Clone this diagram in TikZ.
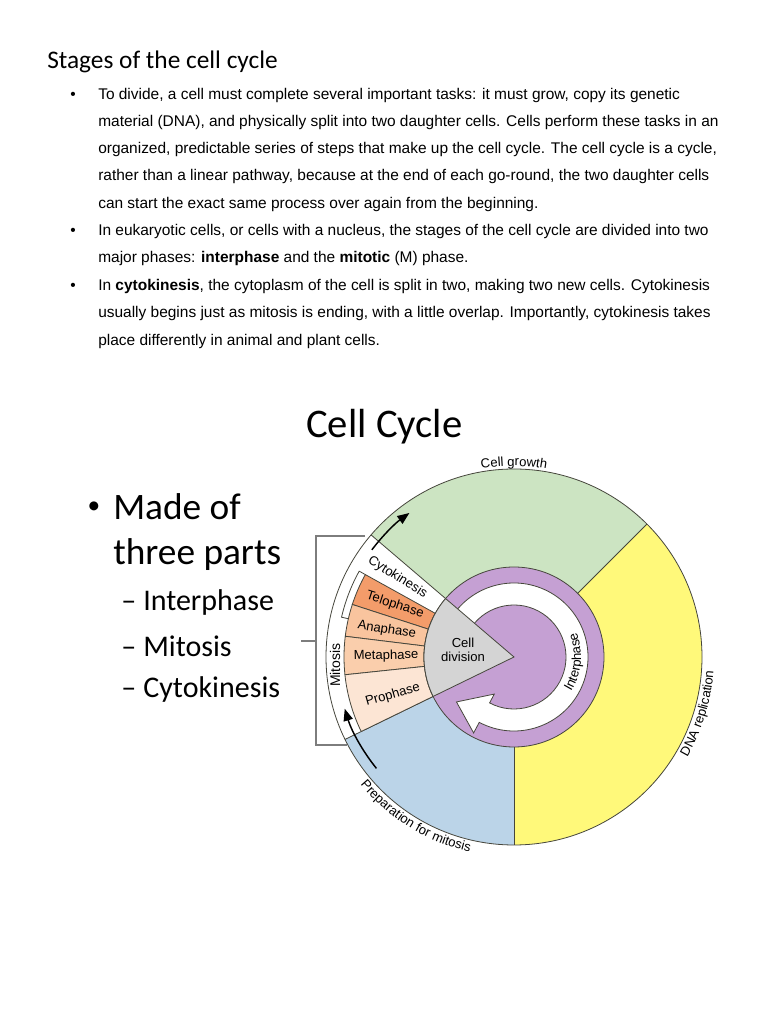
\documentclass[tikz,border=0pt]{standalone}
\usepackage{fontspec}
\setmainfont{Liberation Sans}
\newfontfamily\calib{Carlito}
\usetikzlibrary{decorations.text,arrows.meta}
\definecolor{cgreen}{RGB}{204,228,194}
\definecolor{cyellow}{RGB}{255,249,122}
\definecolor{cblue}{RGB}{187,212,232}
\definecolor{cpurple}{RGB}{197,160,211}
\definecolor{cgray}{RGB}{212,212,212}
\definecolor{ctelo}{RGB}{243,156,106}
\definecolor{cana}{RGB}{249,196,158}
\definecolor{cmeta}{RGB}{250,206,172}
\definecolor{cpro}{RGB}{252,229,212}
\definecolor{edgec}{RGB}{70,70,60}
\definecolor{brk}{RGB}{125,125,125}
\newcommand\bodyf{\fontsize{11.6}{13}\selectfont}
\newcommand\lblf{\fontsize{9.8}{11}\selectfont}
\newcommand\phasesec[3]{\filldraw[fill=#3,draw=edgec,line width=0.6pt] ([shift={(#1:90)}]C) arc[start angle=#1,end angle=#2,radius=90] -- ([shift={(#2:170)}]C) arc[start angle=#2,end angle=#1,radius=170] -- cycle;}
\begin{document}
\begin{tikzpicture}[x=0.75pt,y=0.75pt,
  bodyline/.style={anchor=base west,inner sep=0pt,font=\bodyf},
  slidebig/.style={anchor=base west,inner sep=0pt,font=\calib\fontsize{28}{32}\selectfont},
  slidesub/.style={anchor=base west,inner sep=0pt,font=\calib\fontsize{22.5}{26}\selectfont},
  lbl/.style={inner sep=0pt,font=\lblf,text=black},
  edgeline/.style={draw=edgec,line width=0.6pt},
  cyclearrow/.style={line width=1.1pt,-{Triangle[length=9pt,width=7pt]}},
  bracketline/.style={draw=brk,line width=1pt}]
\useasboundingbox[fill=white] (0,0) rectangle (768,1024);

% ---------- document text ----------
\node[anchor=base west,inner sep=0pt,font=\calib\fontsize{19}{22}\selectfont] (head) at (47,955) {Stages of the cell cycle};
\node[bodyline] (b1) at (70,924) {\textbullet};
\node[bodyline] (l1) at (98,924) {To divide, a cell must complete several important tasks: it must grow, copy its genetic};
\node[bodyline] (l2) at (98,897) {material (DNA), and physically split into two daughter cells. Cells perform these tasks in an};
\node[bodyline] (l3) at (98,870) {organized, predictable series of steps that make up the cell cycle. The cell cycle is a cycle,};
\node[bodyline] (l4) at (98,843) {rather than a linear pathway, because at the end of each go-round, the two daughter cells};
\node[bodyline] (l5) at (98,815) {can start the exact same process over again from the beginning.};
\node[bodyline] (b2) at (70,788) {\textbullet};
\node[bodyline] (l6) at (98,788) {In eukaryotic cells, or cells with a nucleus, the stages of the cell cycle are divided into two};
\node[bodyline] (l7) at (98,761) {major phases: \textbf{interphase} and the \textbf{mitotic} (M) phase.};
\node[bodyline] (b3) at (70,733) {\textbullet};
\node[bodyline] (l8) at (98,733) {In \textbf{cytokinesis}, the cytoplasm of the cell is split in two, making two new cells. Cytokinesis};
\node[bodyline] (l9) at (98,706) {usually begins just as mitosis is ending, with a little overlap. Importantly, cytokinesis takes};
\node[bodyline] (l10) at (98,678) {place differently in animal and plant cells.};

% ---------- slide text ----------
\node[anchor=base west,inner sep=0pt,font=\calib\fontsize{30.5}{34}\selectfont] (title) at (306,586) {Cell Cycle};
\node[inner sep=0pt,font=\calib\fontsize{19}{22}\selectfont] (sb) at (94,516) {\textbullet};
\node[slidebig] (made) at (113,504) {Made of};
\node[slidebig] (three) at (113,459) {three parts};
\node[slidesub] (d1) at (121,413) {\textendash};
\node[slidesub] (inter) at (143,413) {Interphase};
\node[slidesub] (d2) at (121,367) {\textendash};
\node[slidesub] (mit) at (143,367) {Mitosis};
\node[slidesub] (d3) at (121,326) {\textendash};
\node[slidesub] (cyto) at (143,326) {Cytokinesis};

% ---------- diagram ----------
\coordinate (C) at (514,367);
\def\R{188}
\fill[cyellow] (C) -- ++(-90:\R) arc[start angle=-90,end angle=45,radius=\R] -- cycle;
\fill[cgreen] (C) -- ++(45:\R) arc[start angle=45,end angle=139.5,radius=\R] -- cycle;
\fill[cblue] (C) -- ++(206:\R) arc[start angle=206,end angle=270,radius=\R] -- cycle;
\foreach \a in {45,139.5,206,270} \draw[edgeline] ([shift={(\a:90)}]C) -- ([shift={(\a:\R)}]C);
\draw[edgeline] (C) circle[radius=\R];

% mitosis phases
\phasesec{151}{162}{ctelo}
\phasesec{162}{173}{cana}
\phasesec{173}{186}{cmeta}
\phasesec{186}{206}{cpro}
\draw[edgeline] ([shift={(151:170)}]C) -- ([shift={(151:177)}]C) arc[start angle=151,end angle=167,radius=177] -- ([shift={(167:170)}]C);

% interphase ring with white arrow
\filldraw[fill=cpurple,edgeline] (C) circle[radius=90];
\filldraw[fill=white,edgeline] ([shift={(150:74)}]C) arc[start angle=150,end angle=-118,radius=74]
  -- ([shift={(-118:86)}]C) -- ([shift={(218:73)}]C) -- ([shift={(-118:42)}]C)
  -- ([shift={(-118:52)}]C) arc[start angle=-118,end angle=150,radius=52] -- cycle;
\filldraw[fill=cgray,edgeline] (C) -- ([shift={(139.5:90)}]C) arc[start angle=139.5,end angle=206,radius=90] -- cycle;

% arrows on rim
\draw[cyclearrow] ([shift={(143:178)}]C) arc[start angle=143,end angle=126,radius=178];
\draw[cyclearrow] ([shift={(219:177)}]C) arc[start angle=219,end angle=197,radius=177];

% bracket
\coordinate (bt) at (365,488);
\coordinate (bb) at (347,279);
\coordinate (bm) at (301,383);
\draw[bracketline] (bt) -- (316,488) -- (316,279) -- (bb);
\draw[bracketline] (bm) -- (316,383);

% labels
\node[lbl,rotate=-32] (lcyto) at ([shift={(145.7:141)}]C) {Cytokinesis};
\node[lbl,rotate=-18] (ltelo) at ([shift={(156.4:130)}]C) {Telophase};
\node[lbl,rotate=-9] (lana) at ([shift={(168:130)}]C) {Anaphase};
\node[lbl,rotate=1] (lmeta) at ([shift={(179.5:128)}]C) {Metaphase};
\node[lbl,rotate=16] (lpro) at ([shift={(197.3:127)}]C) {Prophase};
\node[lbl,rotate=90,font=\fontsize{10.5}{12}\selectfont] (lmit) at ([shift={(182.6:179)}]C) {Mitosis};
\node[lbl,align=center,font=\fontsize{9.8}{10.5}\selectfont] (ldiv) at (463,374) {Cell\\division};

\path[decorate,decoration={text along path,text={|\lblf|Cell growth},text align=center}]
  ([shift={(101:191)}]C) arc[start angle=101,end angle=79,radius=191];
\path[decorate,decoration={text along path,text={|\lblf|DNA replication},text align=center}]
  ([shift={(-35:200)}]C) arc[start angle=-35,end angle=1,radius=200];
\path[decorate,decoration={text along path,text={|\lblf|Preparation for mitosis},text align=center}]
  ([shift={(214:200)}]C) arc[start angle=214,end angle=263,radius=200];
\path[decorate,decoration={text along path,text={|\lblf|Interphase},text align=center}]
  ([shift={(-40:67)}]C) arc[start angle=-40,end angle=30,radius=67];
\end{tikzpicture}
\end{document}
